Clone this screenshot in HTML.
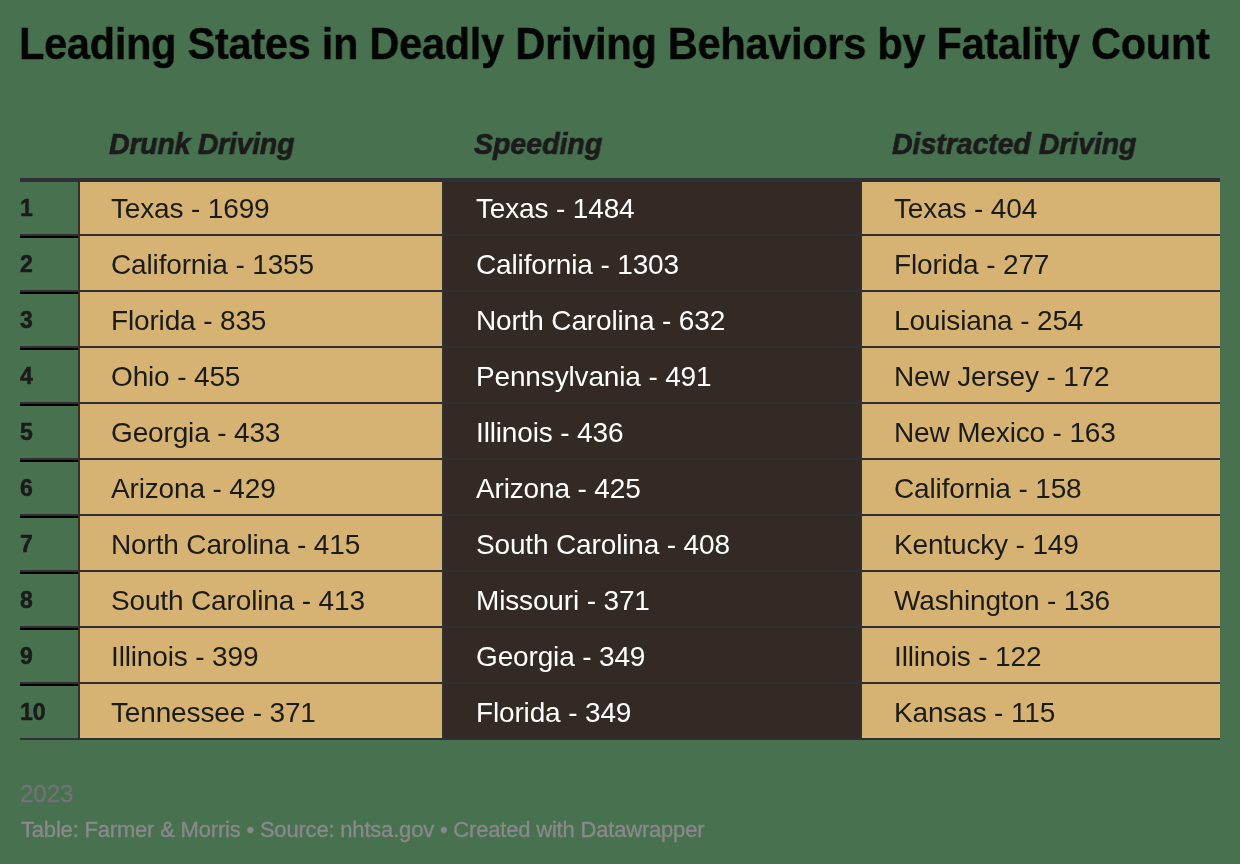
<!DOCTYPE html>
<html><head><meta charset="utf-8">
<style>
html,body{margin:0;padding:0;}
body{width:1240px;height:864px;background:#48724f;position:relative;overflow:hidden;font-family:"Liberation Sans",sans-serif;}
.t{position:absolute;white-space:nowrap;line-height:1;will-change:transform;}
.title{left:18.5px;top:21.3px;font-size:45px;font-weight:bold;color:#050505;letter-spacing:-0.25px;transform:scaleX(0.921);transform-origin:0 0;-webkit-text-stroke:0.4px #050505;}
.h{font-size:30px;font-weight:bold;font-style:italic;color:#1b1b1b;top:128.6px;-webkit-text-stroke:0.7px #1b1b1b;transform:scaleX(0.95);transform-origin:0 0;}
.rk{left:20px;font-size:23px;font-weight:bold;color:#1b1b1b;-webkit-text-stroke:0.5px #1b1b1b;}
.d1,.d3{font-size:28px;color:#1b1b1b;letter-spacing:-0.15px;}
.d2{font-size:28px;color:#ffffff;letter-spacing:-0.15px;}
.d1{left:111px;}
.d2{left:476px;}
.d3{left:894px;}
.blk{position:absolute;}
.hl{position:absolute;left:20px;width:1200px;height:2px;background:#2f3033;}
.hb{position:absolute;left:20px;width:58px;height:2px;background:#000;}
.foot{left:21px;top:819.2px;font-size:22px;color:#8b898b;letter-spacing:-0.19px;-webkit-text-stroke:0.3px #8b898b;}
.year{left:20px;top:781.5px;font-size:24px;color:#74717a;-webkit-text-stroke:0.3px #74717a;}
</style></head><body>
<div class="t title">Leading States in Deadly Driving Behaviors by Fatality Count</div>
<div class="t h" style="left:109px;letter-spacing:-0.26px">Drunk Driving</div>
<div class="t h" style="left:474px;letter-spacing:0px">Speeding</div>
<div class="t h" style="left:892px;letter-spacing:-0.06px">Distracted Driving</div>
<div class="blk" style="left:20px;top:178px;width:1200px;height:4px;background:#2f3033"></div>
<div class="blk" style="left:80px;top:182px;width:362px;height:556px;background:#d6b372"></div>
<div class="blk" style="left:444px;top:182px;width:416px;height:556px;background:#342a25"></div>
<div class="blk" style="left:862px;top:182px;width:358px;height:556px;background:#d6b372"></div>
<div class="blk" style="left:78px;top:182px;width:2px;height:556px;background:#2f3033"></div>
<div class="blk" style="left:442px;top:182px;width:2px;height:556px;background:#2f3033"></div>
<div class="blk" style="left:860px;top:182px;width:2px;height:556px;background:#2f3033"></div>
<div class="blk" style="left:20px;top:738px;width:1200px;height:2px;background:#2f3033"></div>
<div class="t rk" style="top:196.5px">1</div>
<div class="t d1" style="top:194.7px">Texas - 1699</div>
<div class="t d2" style="top:194.7px">Texas - 1484</div>
<div class="t d3" style="top:194.7px">Texas - 404</div>
<div class="t rk" style="top:252.5px">2</div>
<div class="t d1" style="top:250.7px">California - 1355</div>
<div class="t d2" style="top:250.7px">California - 1303</div>
<div class="t d3" style="top:250.7px">Florida - 277</div>
<div class="hl" style="top:234px"></div>
<div class="hb" style="top:236px"></div>
<div class="t rk" style="top:308.5px">3</div>
<div class="t d1" style="top:306.7px">Florida - 835</div>
<div class="t d2" style="top:306.7px">North Carolina - 632</div>
<div class="t d3" style="top:306.7px">Louisiana - 254</div>
<div class="hl" style="top:290px"></div>
<div class="hb" style="top:292px"></div>
<div class="t rk" style="top:364.5px">4</div>
<div class="t d1" style="top:362.7px">Ohio - 455</div>
<div class="t d2" style="top:362.7px">Pennsylvania - 491</div>
<div class="t d3" style="top:362.7px">New Jersey - 172</div>
<div class="hl" style="top:346px"></div>
<div class="hb" style="top:348px"></div>
<div class="t rk" style="top:420.5px">5</div>
<div class="t d1" style="top:418.7px">Georgia - 433</div>
<div class="t d2" style="top:418.7px">Illinois - 436</div>
<div class="t d3" style="top:418.7px">New Mexico - 163</div>
<div class="hl" style="top:402px"></div>
<div class="hb" style="top:404px"></div>
<div class="t rk" style="top:476.5px">6</div>
<div class="t d1" style="top:474.7px">Arizona - 429</div>
<div class="t d2" style="top:474.7px">Arizona - 425</div>
<div class="t d3" style="top:474.7px">California - 158</div>
<div class="hl" style="top:458px"></div>
<div class="hb" style="top:460px"></div>
<div class="t rk" style="top:532.5px">7</div>
<div class="t d1" style="top:530.7px">North Carolina - 415</div>
<div class="t d2" style="top:530.7px">South Carolina - 408</div>
<div class="t d3" style="top:530.7px">Kentucky - 149</div>
<div class="hl" style="top:514px"></div>
<div class="hb" style="top:516px"></div>
<div class="t rk" style="top:588.5px">8</div>
<div class="t d1" style="top:586.7px">South Carolina - 413</div>
<div class="t d2" style="top:586.7px">Missouri - 371</div>
<div class="t d3" style="top:586.7px">Washington - 136</div>
<div class="hl" style="top:570px"></div>
<div class="hb" style="top:572px"></div>
<div class="t rk" style="top:644.5px">9</div>
<div class="t d1" style="top:642.7px">Illinois - 399</div>
<div class="t d2" style="top:642.7px">Georgia - 349</div>
<div class="t d3" style="top:642.7px">Illinois - 122</div>
<div class="hl" style="top:626px"></div>
<div class="hb" style="top:628px"></div>
<div class="t rk" style="top:700.5px">10</div>
<div class="t d1" style="top:698.7px">Tennessee - 371</div>
<div class="t d2" style="top:698.7px">Florida - 349</div>
<div class="t d3" style="top:698.7px">Kansas - 115</div>
<div class="hl" style="top:682px"></div>
<div class="hb" style="top:684px"></div>
<div class="t year">2023</div>
<div class="t foot">Table: Farmer &amp; Morris • Source: nhtsa.gov • Created with Datawrapper</div>
</body></html>
